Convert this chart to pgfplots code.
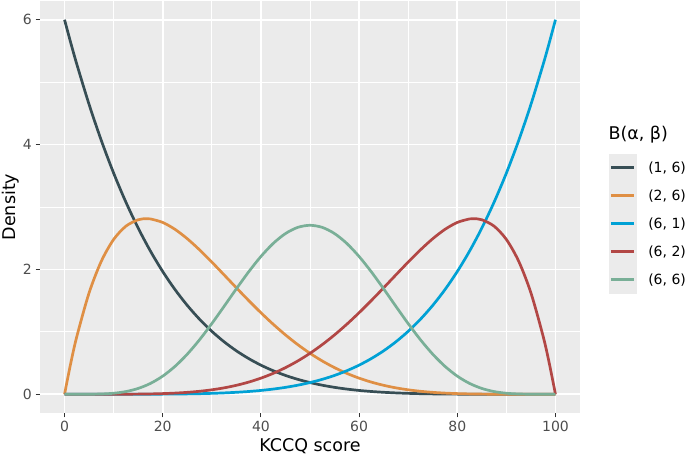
\documentclass[border=0pt]{standalone}
\usepackage{fontspec}
\setmainfont{DejaVu Sans}
\usepackage{pgfplots}
\pgfplotsset{compat=1.18}
\definecolor{panelgrey}{HTML}{EBEBEB}
\definecolor{ticklab}{HTML}{4D4D4D}
\definecolor{tickcol}{HTML}{333333}
\definecolor{cA}{HTML}{374E55}
\definecolor{cB}{HTML}{DF8F44}
\definecolor{cC}{HTML}{00A1D5}
\definecolor{cD}{HTML}{B24745}
\definecolor{cE}{HTML}{79AF97}
\begin{document}
\begin{tikzpicture}
\begin{axis}[
  at={(40pt,44pt)}, anchor=south west,
  scale only axis, width=540pt, height=412pt,
  xmin=-5, xmax=105, ymin=-0.3, ymax=6.3,
  axis background/.style={fill=panelgrey},
  axis line style={draw=none},
  xtick={0,20,40,60,80,100}, ytick={0,2,4,6},
  minor xtick={10,30,50,70,90}, minor ytick={1,3,5},
  grid=both,
  major grid style={white, line width=1.8pt},
  minor grid style={white, line width=0.9pt},
  tick pos=left, tick align=outside,
  major tick length=4.4pt, minor tick length=0pt,
  tick style={tickcol, line width=0.9pt},
  /pgf/number format/assume math mode=true,
  ticklabel style={font=\fontsize{14}{16}\selectfont, text=ticklab, inner sep=0pt},
  xticklabel style={yshift=-3.5pt},
  yticklabel style={xshift=-3.5pt},
  every axis plot/.append style={line width=2.7pt, no markers, smooth, tension=0.5},
  legend style={at={(axis description cs:1.0537,0.62985)}, anchor=north west,
    draw=none, fill=none, inner sep=0pt, row sep=0pt, column sep=0pt,
    font=\fontsize{14}{16}\selectfont, nodes={inner sep=0pt}},
  legend cell align=left,
  legend image code/.code={
    \fill[fill=panelgrey,draw=none] (-1.7pt,-14pt) rectangle (26pt,14pt);
    \draw[#1, sharp plot, line width=3pt] (0pt,0pt) -- (23.3pt,0pt);
    \path (36pt,0pt);
  },
]
\addplot[cA] coordinates {
(0,6) (1.25,5.63426) (2.5,5.28658) (5,4.64269) (7.5,4.06312) (10,3.54294) (12.5,3.07745) (15,2.66223) (17.5,2.29309) (20,1.96608) (22.5,1.67749) (25,1.42383) (27.5,1.20183) (30,1.00842) (32.5,0.84076) (35,0.69617) (37.5,0.57220) (40,0.46656) (42.5,0.37713) (45,0.30197) (47.5,0.23930) (50,0.1875) (52.5,0.14509) (55,0.11072) (57.5,0.08320) (60,0.06144) (62.5,0.04449) (65,0.03151) (67.5,0.02176) (70,0.01458) (72.5,0.00944) (75,0.00586) (77.5,0.00346) (80,0.00192) (82.5,0.000985) (85,0.000456) (87.5,0.000183) (90,0.00006) (92.5,0.0000142) (95,0.0000019) (97.5,0) (100,0)
};
\addlegendentry{(1, 6)}
\addplot[cB] coordinates {
(0,0) (1.25,0.493) (2.5,0.925151) (5,1.624940) (7.5,2.133139) (10,2.480058) (12.5,2.692772) (15,2.795342) (16.667,2.813146) (17.5,2.809030) (20,2.752512) (22.5,2.642050) (25,2.491703) (27.5,2.313523) (30,2.117682) (32.5,1.912720) (35,1.705626) (37.5,1.502030) (40,1.306368) (42.5,1.121962) (45,0.951199) (47.5,0.795686) (50,0.65625) (52.5,0.533191) (55,0.426264) (57.5,0.334864) (60,0.258048) (62.5,0.194665) (65,0.143385) (67.5,0.102794) (70,0.071442) (72.5,0.047892) (75,0.030763) (77.5,0.018768) (80,0.010752) (82.5,0.005686) (85,0.002711) (87.5,0.001122) (90,0.000378) (92.5,0.0000922) (95,0.0000125) (97.5,0) (100,0)
};
\addlegendentry{(2, 6)}
\addplot[cC] coordinates {
(0,0) (2.5,0) (5,0.0000019) (7.5,0.0000142) (10,0.00006) (12.5,0.000183) (15,0.000456) (17.5,0.000985) (20,0.00192) (22.5,0.00346) (25,0.00586) (27.5,0.00944) (30,0.01458) (32.5,0.02176) (35,0.03151) (37.5,0.04449) (40,0.06144) (42.5,0.08320) (45,0.11072) (47.5,0.14509) (50,0.1875) (52.5,0.23930) (55,0.30197) (57.5,0.37713) (60,0.46656) (62.5,0.57220) (65,0.69617) (67.5,0.84076) (70,1.00842) (72.5,1.20183) (75,1.42383) (77.5,1.67749) (80,1.96608) (82.5,2.29309) (85,2.66223) (87.5,3.07745) (90,3.54294) (92.5,4.06312) (95,4.64269) (97.5,5.28658) (98.75,5.63426) (100,6)
};
\addlegendentry{(6, 1)}
\addplot[cD] coordinates {
(0,0) (2.5,0) (5,0.0000125) (7.5,0.0000922) (10,0.000378) (12.5,0.001122) (15,0.002711) (17.5,0.005686) (20,0.010752) (22.5,0.018768) (25,0.030763) (27.5,0.047892) (30,0.071442) (32.5,0.102794) (35,0.143385) (37.5,0.194665) (40,0.258048) (42.5,0.334864) (45,0.426264) (47.5,0.533191) (50,0.65625) (52.5,0.795686) (55,0.951199) (57.5,1.121962) (60,1.306368) (62.5,1.502030) (65,1.705626) (67.5,1.912720) (70,2.117682) (72.5,2.313523) (75,2.491703) (77.5,2.642050) (80,2.752512) (82.5,2.809030) (83.333,2.813146) (85,2.795342) (87.5,2.692772) (90,2.480058) (92.5,2.133139) (95,1.624940) (97.5,0.925151) (98.75,0.493) (100,0)
};
\addlegendentry{(6, 2)}
\addplot[cE] coordinates {
(0,0) (2.5,0.0000239) (5,0.000670) (7.5,0.004455) (10,0.016368) (12.5,0.043390) (15,0.093403) (17.5,0.173880) (20,0.290665) (22.5,0.446904) (25,0.642392) (27.5,0.873291) (30,1.132113) (32.5,1.408406) (35,1.689279) (37.5,1.960422) (40,2.207239) (42.5,2.415931) (45,2.574365) (47.5,2.673414) (50,2.707031) (52.5,2.673414) (55,2.574365) (57.5,2.415931) (60,2.207239) (62.5,1.960422) (65,1.689279) (67.5,1.408406) (70,1.132113) (72.5,0.873291) (75,0.642392) (77.5,0.446904) (80,0.290665) (82.5,0.173880) (85,0.093403) (87.5,0.043390) (90,0.016368) (92.5,0.004455) (95,0.000670) (97.5,0.0000239) (100,0)
};
\addlegendentry{(6, 6)}
\end{axis}
\node[anchor=base, inner sep=0pt, font=\fontsize{17.5}{20}\selectfont] at (310pt,5pt) {KCCQ score};
\node[anchor=base, rotate=90, inner sep=0pt, font=\fontsize{17.5}{20}\selectfont] at (15.5pt,250pt) {Density};
\node[anchor=west, inner sep=0pt, font=\fontsize{17.5}{20}\selectfont] at (608.3pt,322pt) {B(α, β)};
\pgfresetboundingbox
\path (0pt,0pt) rectangle (685pt,457pt);
\end{tikzpicture}
\end{document}
